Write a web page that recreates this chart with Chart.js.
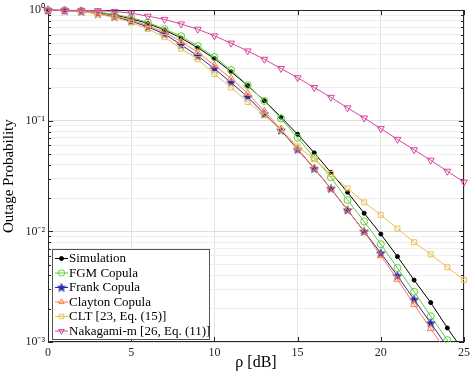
<!DOCTYPE html>
<html>
<head>
<meta charset="utf-8">
<script src="https://cdn.jsdelivr.net/npm/chart.js@4"></script>
<style>
html,body{margin:0;padding:0;background:#fff;}
canvas{display:block;}
</style>
</head>
<body>
<canvas id="c" width="474" height="372"></canvas>
<script>
// ---- data ----
const rho = [0,1,2,3,4,5,6,7,8,9,10,11,12,13,14,15,16,17,18,19,20,21,22,23,24,25];
const simulation = [1.0,0.995,0.982,0.955,0.905,0.839,0.758,0.663,0.559,0.458,0.365,0.278,0.208,0.152,0.108,0.0755,0.0513,0.0341,0.0226,0.0146,0.00946,0.00592,0.00363,0.00227,0.00134,0.000814];
const fgm = [1.0,0.996,0.985,0.96,0.915,0.855,0.776,0.676,0.582,0.474,0.378,0.288,0.21,0.151,0.105,0.0702,0.0465,0.0308,0.0192,0.0123,0.00766,0.00467,0.00285,0.00171,0.00104,0.000623];
const frank = [1.0,0.993,0.975,0.93,0.875,0.798,0.705,0.61,0.487,0.386,0.296,0.222,0.164,0.1155,0.0822,0.0551,0.037,0.0244,0.0156,0.0100,0.00636,0.00397,0.00242,0.00148,0.000902,0.00055];
const clayton = [1.0,0.994,0.978,0.94,0.884,0.814,0.724,0.632,0.521,0.416,0.318,0.242,0.177,0.122,0.084,0.0557,0.0373,0.0242,0.0156,0.0099,0.00604,0.00369,0.00218,0.00132,0.000797,0.000477];
const clt = [1.0,0.993,0.975,0.921,0.857,0.773,0.677,0.57,0.449,0.36,0.265,0.2,0.148,0.112,0.0831,0.0586,0.0449,0.033,0.0245,0.0183,0.0141,0.0106,0.00797,0.0062,0.00474,0.00364];
const nakagami = [1.0,0.998,0.995,0.99,0.975,0.94,0.883,0.826,0.75,0.673,0.586,0.504,0.428,0.36,0.297,0.245,0.2,0.163,0.131,0.106,0.085,0.068,0.0547,0.044,0.035,0.0279];
const seriesLabels = ['Simulation','FGM Copula','Frank Copula','Clayton Copula','CLT [23, Eq. (15)]','Nakagami-m [26, Eq. (11)]'];
const xTicks = [0,5,10,15,20,25];
const yTickValues = [0.001,0.01,0.1,1];
const yTickLabels = ['10\u207B\u00B3','10\u207B\u00B2','10\u207B\u00B9','10\u2070'];

const FONT = '"Liberation Serif","Times New Roman",serif';
const pts = arr => rho.map((x,i)=>({x:x,y:arr[i]}));

// filled five-point star marker
function makeStar(color){
  const c=document.createElement('canvas'); c.width=10; c.height=10;
  const g=c.getContext('2d');
  g.fillStyle=color; g.strokeStyle=color; g.lineWidth=0.6;
  g.beginPath();
  for(let k=0;k<10;k++){
    const r=(k%2===0)?4.6:2.0;
    const a=-Math.PI/2+k*Math.PI/5;
    const px=5+r*Math.cos(a), py=5.3+r*Math.sin(a);
    if(k===0) g.moveTo(px,py); else g.lineTo(px,py);
  }
  g.closePath(); g.fill(); g.stroke();
  return c;
}
const starImg = makeStar('#2b2ba3');

const styles = [
  {color:'#000000', pointStyle:'circle', radius:2, fill:'#000000', rotation:0},
  {color:'#5fcf3a', pointStyle:'circle', radius:3.5, fill:'rgba(0,0,0,0)', rotation:0},
  {color:'#2b2ba3', pointStyle:starImg, radius:4, fill:'#2b2ba3', rotation:0},
  {color:'#ff7a4d', pointStyle:'triangle', radius:4, fill:'rgba(0,0,0,0)', rotation:0},
  {color:'#efbd55', pointStyle:'rect', radius:3.5, fill:'rgba(0,0,0,0)', rotation:0},
  {color:'#d6469f', pointStyle:'triangle', radius:4, fill:'rgba(0,0,0,0)', rotation:180}
];
const seriesData = [simulation,fgm,frank,clayton,clt,nakagami];

const datasets = seriesData.map((arr,i)=>({
  label: seriesLabels[i],
  data: pts(arr),
  borderColor: styles[i].color,
  backgroundColor: styles[i].fill,
  pointBorderColor: styles[i].color,
  pointBackgroundColor: styles[i].fill,
  pointStyle: styles[i].pointStyle,
  pointRadius: styles[i].radius,
  pointRotation: styles[i].rotation,
  pointBorderWidth: 1,
  borderWidth: 1,
  tension: 0,
  clip: {left:6, top:6, right:6, bottom:0},
  order: 6 - i
}));

// minor log ticks (layout only)
function logTicks(){
  const t=[];
  for(let e=-3;e<=0;e++){
    for(let m=1;m<=9;m++){
      const v=m*Math.pow(10,e);
      if(v>1.0000001) break;
      t.push({value:v});
    }
  }
  return t;
}
const isMajor = v => yTickValues.some(d=>Math.abs(v-d)/d<1e-6);

const framePlugin = {
  id:'frame',
  beforeDatasetsDraw(chart){
    const {ctx, chartArea:a, scales} = chart;
    ctx.save();
    ctx.strokeStyle='#262626';
    ctx.lineWidth=1;
    ctx.strokeRect(Math.round(a.left)+0.5, Math.round(a.top)+0.5, Math.round(a.right-a.left)-1, Math.round(a.bottom-a.top)-1);
    ctx.beginPath();
    scales.y.ticks.forEach(t=>{
      const y=Math.round(scales.y.getPixelForValue(t.value))+0.5;
      const L=isMajor(t.value)?5:3;
      ctx.moveTo(a.left,y); ctx.lineTo(a.left+L,y);
      ctx.moveTo(a.right,y); ctx.lineTo(a.right-L,y);
    });
    scales.x.ticks.forEach(t=>{
      const x=Math.round(scales.x.getPixelForValue(t.value))+0.5;
      ctx.moveTo(x,a.bottom); ctx.lineTo(x,a.bottom-5);
      ctx.moveTo(x,a.top); ctx.lineTo(x,a.top+5);
    });
    ctx.stroke();
    ctx.restore();
  }
};

const legendPlugin = {
  id:'customLegend',
  afterDraw(chart){
    const ctx=chart.ctx;
    const bx=52.5, by=249.5, bw=157, bh=90;
    ctx.save();
    ctx.fillStyle='#ffffff';
    ctx.fillRect(bx,by,bw,bh);
    ctx.strokeStyle='#555555';
    ctx.lineWidth=1;
    ctx.strokeRect(bx,by,bw,bh);
    const rowY=[258.5,273,287.5,302,316.5,331];
    ctx.font='13px '+FONT;
    ctx.textBaseline='middle';
    ctx.textAlign='left';
    seriesLabels.forEach((lab,i)=>{
      const s=styles[i], y=rowY[i];
      ctx.strokeStyle=s.color; ctx.lineWidth=1;
      ctx.beginPath(); ctx.moveTo(55,y); ctx.lineTo(68,y); ctx.stroke();
      ctx.fillStyle=s.fill; ctx.strokeStyle=s.color;
      Chart.helpers.drawPoint(ctx,{pointStyle:s.pointStyle,radius:Math.min(s.radius,3.2),rotation:s.rotation,borderWidth:1},61.5,y);
      ctx.fillStyle='#000000';
      ctx.fillText(lab,69,y+0.5);
    });
    ctx.restore();
  }
};

new Chart(document.getElementById('c'),{
  type:'line',
  data:{datasets:datasets},
  options:{
    responsive:false,
    animation:false,
    devicePixelRatio:1,
    layout:{padding:{top:6,right:5,left:0,bottom:0}},
    plugins:{legend:{display:false},tooltip:{enabled:false}},
    elements:{line:{fill:false}},
    scales:{
      x:{
        type:'linear', min:0, max:25,
        afterBuildTicks(s){ s.ticks = xTicks.map(v=>({value:v})); },
        afterFit(s){ s.height=30; },
        grid:{color:'#e4e4e4', drawTicks:false, lineWidth:1},
        border:{display:false},
        ticks:{font:{family:FONT,size:12}, color:'#262626', padding:4, maxRotation:0, autoSkip:false},
        title:{display:true, text:'\u03C1 [dB]', font:{family:FONT,size:16}, color:'#000', padding:{top:0,bottom:0}}
      },
      y:{
        type:'logarithmic', min:0.001, max:1,
        afterBuildTicks(s){ s.ticks = logTicks(); },
        afterFit(s){ s.width=48; },
        grid:{color:ctx=> (ctx.tick && isMajor(ctx.tick.value)) ? '#dedede' : '#eeeeee', drawTicks:false, lineWidth:1},
        border:{display:false},
        ticks:{
          font:{family:FONT,size:12}, color:'#262626', padding:3, autoSkip:false,
          callback:(v)=>{ const i=yTickValues.findIndex(d=>Math.abs(v-d)/d<1e-6); return i>=0?yTickLabels[i]:''; }
        },
        title:{display:true, text:'Outage Probability', font:{family:FONT,size:15}, color:'#000', padding:{top:0,bottom:0}}
      }
    }
  },
  plugins:[framePlugin, legendPlugin]
});
</script>
</body>
</html>
